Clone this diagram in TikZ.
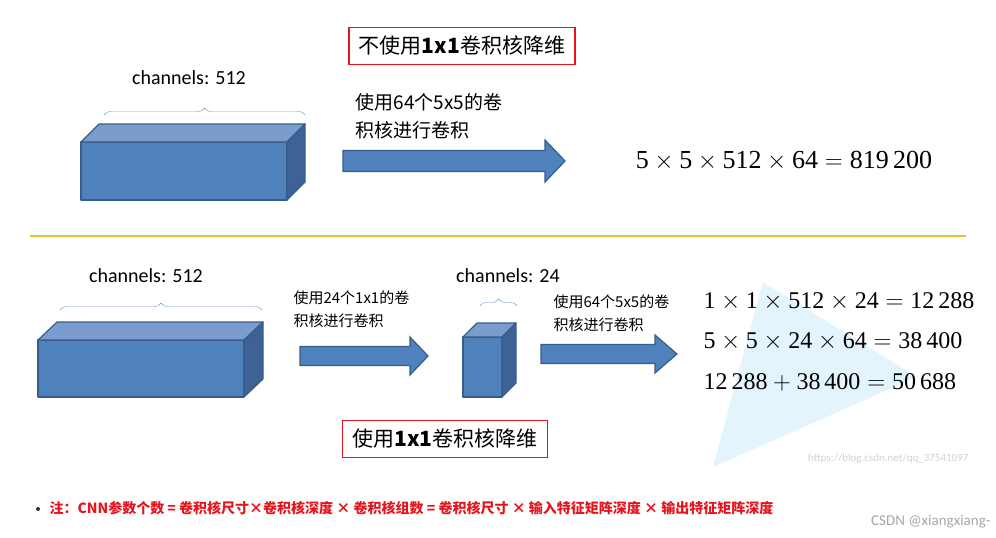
\documentclass[tikz,border=0pt]{standalone}
\usepackage{fontspec}
\setmainfont{Carlito}
\newfontfamily\cjk{Noto Sans CJK SC}
\newfontfamily\tms{Liberation Serif}
\usetikzlibrary{decorations.pathreplacing}
\definecolor{cfront}{RGB}{79,129,189}
\definecolor{ctop}{RGB}{122,157,206}
\definecolor{cside}{RGB}{62,98,150}
\definecolor{cedge}{RGB}{56,93,138}
\definecolor{gold}{RGB}{240,185,40}
\definecolor{tri}{RGB}{228,244,252}
\definecolor{bred}{RGB}{230,20,30}
\tikzset{
 face/.style={draw=cedge,line width=1.2pt,line join=round},
 bigarrow/.style={draw=cedge,fill=cfront,line width=1.2pt},
 redbox/.style={draw=bred,line width=1.5pt,fill=white,minimum height=37pt,inner xsep=10pt,font=\cjk\fontsize{21}{24}\selectfont},
 lbl/.style={font=\fontsize{20}{24}\selectfont},
 brace/.style={draw=cfront!80,decorate,decoration={brace,amplitude=7pt}},
 eq/.style={anchor=west,font=\fontsize{25}{28}\selectfont},
}
\newcommand{\cuboid}[6]{% x1 y1 x2 y2 dx dy
 \fill[face,fill=cfront] (#1,#2) rectangle (#3,#4);
 \fill[face,fill=ctop] (#1,#2) -- ++(#5,-#6) -- (#3+#5,#2-#6) -- (#3,#2) -- cycle;
 \fill[face,fill=cside] (#3,#2) -- (#3+#5,#2-#6) -- (#3+#5,#4-#6) -- (#3,#4) -- cycle;
}
\newcommand{\barrow}[5]{% x1 x2 xtip yc halfbody
 \draw[bigarrow] (#1,#4-#5) -- (#2,#4-#5) -- (#2,#4-2*#5) -- (#3,#4) -- (#2,#4+2*#5) -- (#2,#4+#5) -- (#1,#4+#5) -- cycle;
}
\begin{document}
\begin{tikzpicture}[x=1pt,y=-1pt]
\useasboundingbox (0,0) rectangle (996,538);
\fill[tri] (763,282) -- (917,377) -- (713,467) -- cycle;
% top
\node[redbox] (t1) at (462,46) {不使用\textbf{1x1}卷积核降维};
\cuboid{81}{142}{287}{200}{18}{18}
\draw[brace] (104,115) -- (305,115);
\node[lbl] (c1) at (189,78) {channels: 512};
\barrow{343}{545}{565}{161}{10.5}
\node[lbl,anchor=west,align=left,font=\cjk\fontsize{19}{28}\selectfont] (l1) at (352,116) {使用64个5x5的卷\\积核进行卷积};
\node[anchor=center,font=\tms\fontsize{26}{30}\selectfont] (e0) at (784,161) {5${}\times{}$5${}\times{}$512${}\times{}$64${}={}$819\,200};
\draw[gold,line width=2.5pt] (30,236) -- (966,236);
% bottom
\cuboid{38}{340}{244}{397}{19}{18}
\draw[brace] (60,310) -- (262,310);
\node[lbl] (c2) at (146,276) {channels: 512};
\cuboid{463}{337}{502}{397}{14}{14}
\draw[brace] (480,306) -- (517,306);
\node[lbl] (c3) at (508,276) {channels: 24};
\barrow{300}{410}{428}{356}{9.5}
\barrow{541}{655}{677}{354}{9.5}
\node[anchor=west,align=left,font=\cjk\fontsize{15}{23}\selectfont] (l2) at (290,309) {使用24个1x1的卷\\积核进行卷积};
\node[anchor=west,align=left,font=\cjk\fontsize{15}{23}\selectfont] (l3) at (550,313) {使用64个5x5的卷\\积核进行卷积};
\node[eq,font=\tms\fontsize{24}{28}\selectfont] (e1) at (700,302) {1${}\times{}$1${}\times{}$512${}\times{}$24${}={}$12\,288};
\node[eq,font=\tms\fontsize{24}{28}\selectfont] (e2) at (700,342) {5${}\times{}$5${}\times{}$24${}\times{}$64${}={}$38\,400};
\node[eq,font=\tms\fontsize{24}{28}\selectfont] (e3) at (700,382) {12\,288${}+{}$38\,400${}={}$50\,688};
\node[redbox] (t2) at (445,439) {使用\textbf{1x1}卷积核降维};
\node[anchor=east,text=black!18,font=\fontsize{11}{12}\selectfont] (w1) at (972,459) {https://blog.csdn.net/qq\_37541097};
\fill[black!80] (38,509) circle (2pt);
\node[anchor=west,text=bred,font=\cjk\bfseries\fontsize{14}{16}\selectfont] (note) at (46,508) {注：CNN参数个数 = 卷积核尺寸×卷积核深度 × 卷积核组数 = 卷积核尺寸 × 输入特征矩阵深度 × 输出特征矩阵深度};
\node[anchor=east,text=black!35,font=\fontsize{15}{16}\selectfont] (w2) at (994,522) {CSDN @xiangxiang-};
\end{tikzpicture}
\end{document}
